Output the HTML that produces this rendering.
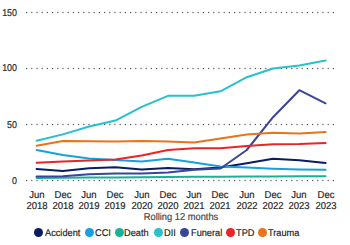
<!DOCTYPE html>
<html><head><meta charset="utf-8"><style>
html,body{margin:0;padding:0;background:#fff;}
body{width:350px;height:245px;position:relative;overflow:hidden;font-family:"Liberation Sans",sans-serif;text-rendering:geometricPrecision;color:#1e1e1e;-webkit-text-stroke:0.18px currentColor;}
svg{position:absolute;left:0;top:0;}
.yl{position:absolute;width:40px;text-align:right;left:-22.65px;font-size:9.9px;line-height:14px;transform:scaleX(0.9);transform-origin:100% 50%;}
.xl{position:absolute;top:189.8px;width:40px;text-align:center;font-size:10px;line-height:11.2px;transform:scaleX(0.95);}
.xt{position:absolute;left:120.6px;width:120px;top:210.6px;text-align:center;font-size:10px;line-height:14px;color:#454545;transform:scaleX(0.93);}
.dot{position:absolute;top:228.1px;width:9px;height:9px;border-radius:50%;}
.lt{position:absolute;top:226.5px;font-size:9.8px;line-height:14px;transform:scaleX(0.94);transform-origin:0 50%;white-space:nowrap;}
</style></head><body>
<svg width="350" height="245" viewBox="0 0 350 245">
<path d="M26.60 12.5h0M31.80 12.5h0M37.00 12.5h0M42.20 12.5h0M47.40 12.5h0M52.60 12.5h0M57.80 12.5h0M63.00 12.5h0M68.20 12.5h0M73.40 12.5h0M78.60 12.5h0M83.80 12.5h0M89.00 12.5h0M94.20 12.5h0M99.40 12.5h0M104.60 12.5h0M109.80 12.5h0M115.00 12.5h0M120.20 12.5h0M125.40 12.5h0M130.60 12.5h0M135.80 12.5h0M141.00 12.5h0M146.20 12.5h0M151.40 12.5h0M156.60 12.5h0M161.80 12.5h0M167.00 12.5h0M172.20 12.5h0M177.40 12.5h0M182.60 12.5h0M187.80 12.5h0M193.00 12.5h0M198.20 12.5h0M203.40 12.5h0M208.60 12.5h0M213.80 12.5h0M219.00 12.5h0M224.20 12.5h0M229.40 12.5h0M234.60 12.5h0M239.80 12.5h0M245.00 12.5h0M250.20 12.5h0M255.40 12.5h0M260.60 12.5h0M265.80 12.5h0M271.00 12.5h0M276.20 12.5h0M281.40 12.5h0M286.60 12.5h0M291.80 12.5h0M297.00 12.5h0M302.20 12.5h0M307.40 12.5h0M312.60 12.5h0M317.80 12.5h0M323.00 12.5h0M328.20 12.5h0M333.40 12.5h0" stroke="#555" stroke-width="1.35" stroke-linecap="round"/>
<path d="M26.60 68.5h0M31.80 68.5h0M37.00 68.5h0M42.20 68.5h0M47.40 68.5h0M52.60 68.5h0M57.80 68.5h0M63.00 68.5h0M68.20 68.5h0M73.40 68.5h0M78.60 68.5h0M83.80 68.5h0M89.00 68.5h0M94.20 68.5h0M99.40 68.5h0M104.60 68.5h0M109.80 68.5h0M115.00 68.5h0M120.20 68.5h0M125.40 68.5h0M130.60 68.5h0M135.80 68.5h0M141.00 68.5h0M146.20 68.5h0M151.40 68.5h0M156.60 68.5h0M161.80 68.5h0M167.00 68.5h0M172.20 68.5h0M177.40 68.5h0M182.60 68.5h0M187.80 68.5h0M193.00 68.5h0M198.20 68.5h0M203.40 68.5h0M208.60 68.5h0M213.80 68.5h0M219.00 68.5h0M224.20 68.5h0M229.40 68.5h0M234.60 68.5h0M239.80 68.5h0M245.00 68.5h0M250.20 68.5h0M255.40 68.5h0M260.60 68.5h0M265.80 68.5h0M271.00 68.5h0M276.20 68.5h0M281.40 68.5h0M286.60 68.5h0M291.80 68.5h0M297.00 68.5h0M302.20 68.5h0M307.40 68.5h0M312.60 68.5h0M317.80 68.5h0M323.00 68.5h0M328.20 68.5h0M333.40 68.5h0" stroke="#555" stroke-width="1.35" stroke-linecap="round"/>
<path d="M26.60 124.5h0M31.80 124.5h0M37.00 124.5h0M42.20 124.5h0M47.40 124.5h0M52.60 124.5h0M57.80 124.5h0M63.00 124.5h0M68.20 124.5h0M73.40 124.5h0M78.60 124.5h0M83.80 124.5h0M89.00 124.5h0M94.20 124.5h0M99.40 124.5h0M104.60 124.5h0M109.80 124.5h0M115.00 124.5h0M120.20 124.5h0M125.40 124.5h0M130.60 124.5h0M135.80 124.5h0M141.00 124.5h0M146.20 124.5h0M151.40 124.5h0M156.60 124.5h0M161.80 124.5h0M167.00 124.5h0M172.20 124.5h0M177.40 124.5h0M182.60 124.5h0M187.80 124.5h0M193.00 124.5h0M198.20 124.5h0M203.40 124.5h0M208.60 124.5h0M213.80 124.5h0M219.00 124.5h0M224.20 124.5h0M229.40 124.5h0M234.60 124.5h0M239.80 124.5h0M245.00 124.5h0M250.20 124.5h0M255.40 124.5h0M260.60 124.5h0M265.80 124.5h0M271.00 124.5h0M276.20 124.5h0M281.40 124.5h0M286.60 124.5h0M291.80 124.5h0M297.00 124.5h0M302.20 124.5h0M307.40 124.5h0M312.60 124.5h0M317.80 124.5h0M323.00 124.5h0M328.20 124.5h0M333.40 124.5h0" stroke="#555" stroke-width="1.35" stroke-linecap="round"/>
<path d="M26.60 180.5h0M31.80 180.5h0M37.00 180.5h0M42.20 180.5h0M47.40 180.5h0M52.60 180.5h0M57.80 180.5h0M63.00 180.5h0M68.20 180.5h0M73.40 180.5h0M78.60 180.5h0M83.80 180.5h0M89.00 180.5h0M94.20 180.5h0M99.40 180.5h0M104.60 180.5h0M109.80 180.5h0M115.00 180.5h0M120.20 180.5h0M125.40 180.5h0M130.60 180.5h0M135.80 180.5h0M141.00 180.5h0M146.20 180.5h0M151.40 180.5h0M156.60 180.5h0M161.80 180.5h0M167.00 180.5h0M172.20 180.5h0M177.40 180.5h0M182.60 180.5h0M187.80 180.5h0M193.00 180.5h0M198.20 180.5h0M203.40 180.5h0M208.60 180.5h0M213.80 180.5h0M219.00 180.5h0M224.20 180.5h0M229.40 180.5h0M234.60 180.5h0M239.80 180.5h0M245.00 180.5h0M250.20 180.5h0M255.40 180.5h0M260.60 180.5h0M265.80 180.5h0M271.00 180.5h0M276.20 180.5h0M281.40 180.5h0M286.60 180.5h0M291.80 180.5h0M297.00 180.5h0M302.20 180.5h0M307.40 180.5h0M312.60 180.5h0M317.80 180.5h0M323.00 180.5h0M328.20 180.5h0M333.40 180.5h0" stroke="#555" stroke-width="1.35" stroke-linecap="round"/>
<polyline points="36.60,169.10 62.87,170.90 89.14,168.30 115.41,167.20 141.68,169.60 167.95,167.90 194.22,169.20 220.49,167.60 246.76,163.20 273.03,158.80 299.30,160.30 325.57,163.00" fill="none" stroke="#0c1c62" stroke-width="2.0" stroke-linejoin="round" stroke-linecap="round"/>
<polyline points="36.60,149.90 62.87,154.90 89.14,158.50 115.41,159.90 141.68,161.50 167.95,158.80 194.22,162.60 220.49,166.40 246.76,167.60 273.03,168.80 299.30,169.50 325.57,169.80" fill="none" stroke="#15a1e0" stroke-width="2.0" stroke-linejoin="round" stroke-linecap="round"/>
<polyline points="36.60,177.90 62.87,177.80 89.14,177.60 115.41,177.40 141.68,177.20 167.95,177.00 194.22,176.80 220.49,176.70 246.76,176.60 273.03,176.40 299.30,176.30 325.57,176.20" fill="none" stroke="#17b394" stroke-width="2.0" stroke-linejoin="round" stroke-linecap="round"/>
<polyline points="36.60,140.70 62.87,134.40 89.14,126.50 115.41,120.60 141.68,106.80 167.95,95.80 194.22,95.80 220.49,91.30 246.76,77.20 273.03,68.50 299.30,65.50 325.57,60.50" fill="none" stroke="#27c1cc" stroke-width="2.0" stroke-linejoin="round" stroke-linecap="round"/>
<polyline points="36.60,176.60 62.87,176.30 89.14,174.20 115.41,173.50 141.68,173.50 167.95,172.60 194.22,169.80 220.49,168.50 246.76,150.00 273.03,117.20 299.30,90.20 325.57,103.30" fill="none" stroke="#394596" stroke-width="2.0" stroke-linejoin="round" stroke-linecap="round"/>
<polyline points="36.60,162.80 62.87,161.40 89.14,160.40 115.41,159.50 141.68,155.50 167.95,150.10 194.22,148.20 220.49,148.20 246.76,146.00 273.03,144.20 299.30,144.10 325.57,143.00" fill="none" stroke="#ea2525" stroke-width="2.0" stroke-linejoin="round" stroke-linecap="round"/>
<polyline points="36.60,145.80 62.87,141.10 89.14,141.20 115.41,141.40 141.68,140.90 167.95,141.40 194.22,142.50 220.49,138.50 246.76,134.40 273.03,132.70 299.30,133.60 325.57,132.00" fill="none" stroke="#e97318" stroke-width="2.0" stroke-linejoin="round" stroke-linecap="round"/>
</svg>
<div class="yl" style="top:6.50px">150</div><div class="yl" style="top:62.20px">100</div><div class="yl" style="top:118.50px">50</div><div class="yl" style="top:174.50px">0</div>
<div class="xl" style="left:16.60px">Jun<br>2018</div><div class="xl" style="left:42.87px">Dec<br>2018</div><div class="xl" style="left:69.14px">Jun<br>2019</div><div class="xl" style="left:95.41px">Dec<br>2019</div><div class="xl" style="left:121.68px">Jun<br>2020</div><div class="xl" style="left:147.95px">Dec<br>2020</div><div class="xl" style="left:174.22px">Jun<br>2021</div><div class="xl" style="left:200.49px">Dec<br>2021</div><div class="xl" style="left:226.76px">Jun<br>2022</div><div class="xl" style="left:253.03px">Dec<br>2022</div><div class="xl" style="left:279.30px">Jun<br>2023</div><div class="xl" style="left:305.57px">Dec<br>2023</div>
<div class="xt">Rolling 12 months</div>
<div class="dot" style="left:34.00px;background:#0c1c62"></div><div class="lt" style="left:44.50px">Accident</div><div class="dot" style="left:84.80px;background:#15a1e0"></div><div class="lt" style="left:94.60px">CCI</div><div class="dot" style="left:114.50px;background:#17b394"></div><div class="lt" style="left:124.40px">Death</div><div class="dot" style="left:153.90px;background:#27c1cc"></div><div class="lt" style="left:164.00px">DII</div><div class="dot" style="left:180.20px;background:#394596"></div><div class="lt" style="left:190.50px">Funeral</div><div class="dot" style="left:225.70px;background:#ea2525"></div><div class="lt" style="left:235.80px">TPD</div><div class="dot" style="left:258.00px;background:#e97318"></div><div class="lt" style="left:268.00px">Trauma</div>
</body></html>
